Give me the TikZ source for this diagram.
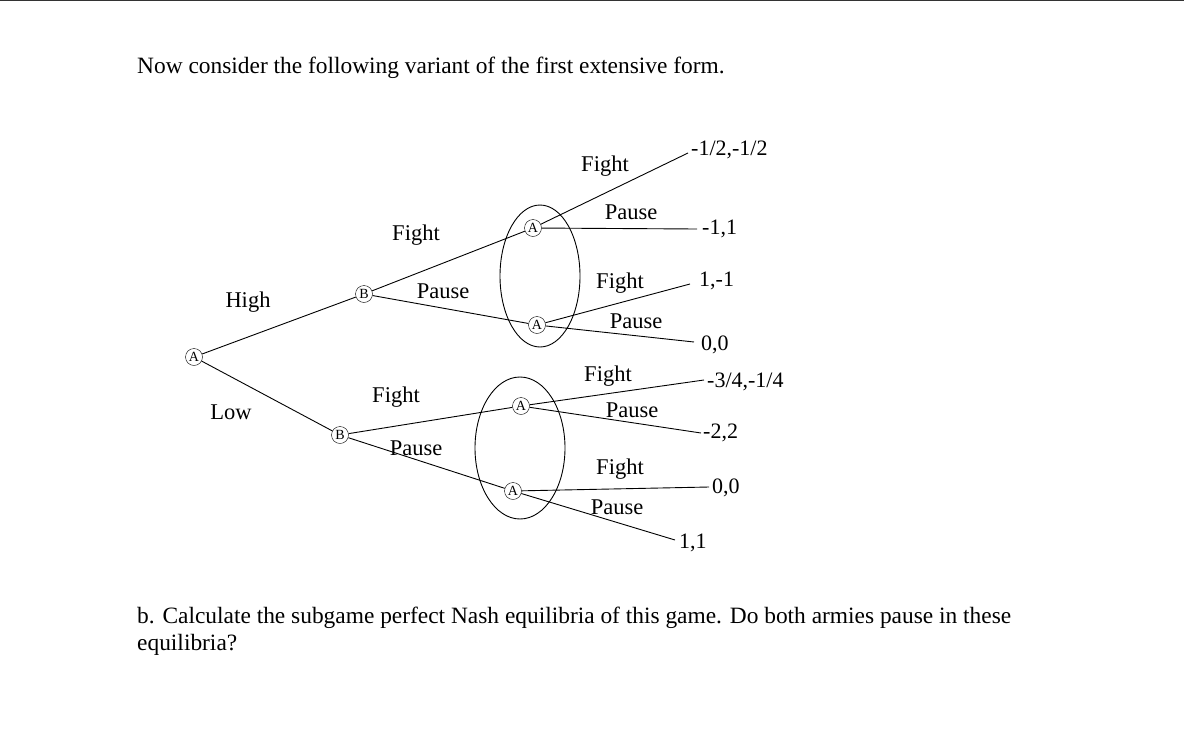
\documentclass[tikz,border=0pt]{standalone}
\usepackage{fontspec}
\setmainfont{Liberation Serif}
\begin{document}
\begin{tikzpicture}[x=1pt,y=-1pt,
  dn/.style={draw,circle,inner sep=0pt,minimum size=17pt,fill=white,font=\fontsize{14}{14}\selectfont},
  lb/.style={font=\fontsize{22.5}{24}\selectfont,inner sep=0pt},
  tx/.style={font=\fontsize{23.4}{26}\selectfont,inner sep=0pt,anchor=west},
  pay/.style={font=\fontsize{22}{24}\selectfont,inner sep=0pt,anchor=west},
  ln/.style={line width=0.9pt}]
\useasboundingbox (0,0) rectangle (1184,734);
\draw[line width=1.5pt,color=black!80] (0,0.5) -- (1184,0.5);
\node[tx] (t1) at (137,68) {Now consider the following variant of the first extensive form.};
\node[tx] (t2) at (137,618) {b. Calculate the subgame perfect Nash equilibria of this game. Do both armies pause in these};
\node[tx] (t3) at (137,645) {equilibria?};
\draw[ln] (540,276) ellipse (40 and 71);
\draw[ln] (520,448) ellipse (45 and 71);
\coordinate (e1) at (688,153);
\coordinate (e2) at (697,229);
\coordinate (e3) at (690,284);
\coordinate (e4) at (694,342);
\coordinate (e5) at (704,380);
\coordinate (e6) at (701,433);
\coordinate (e7) at (709,487);
\coordinate (e8) at (675,540);
\node[dn] (r) at (194,357) {A};
\node[dn] (bh) at (364,294) {B};
\node[dn] (bl) at (340,435) {B};
\node[dn] (a1) at (533,228) {A};
\node[dn] (a2) at (537,325) {A};
\node[dn] (a3) at (521,406) {A};
\node[dn] (a4) at (513,491) {A};
\draw[ln] (r) -- (bh); \draw[ln] (r) -- (bl);
\draw[ln] (bh) -- (a1); \draw[ln] (bh) -- (a2);
\draw[ln] (bl) -- (a3); \draw[ln] (bl) -- (a4);
\draw[ln] (a1) -- (e1); \draw[ln] (a1) -- (e2);
\draw[ln] (a2) -- (e3); \draw[ln] (a2) -- (e4);
\draw[ln] (a3) -- (e5); \draw[ln] (a3) -- (e6);
\draw[ln] (a4) -- (e7); \draw[ln] (a4) -- (e8);
\node[pay] (p1) at (691,150) {-1/2,-1/2};
\node[pay] (p2) at (702,229) {-1,1};
\node[pay] (p3) at (699,281) {1,-1};
\node[pay] (p4) at (701,345) {0,0};
\node[pay] (p5) at (707,382) {-3/4,-1/4};
\node[pay] (p6) at (703,433) {-2,2};
\node[pay] (p7) at (712,488) {0,0};
\node[pay] (p8) at (679,543) {1,1};
\node[lb] (l1) at (248,302) {High};
\node[lb] (l2) at (231,412) {Low};
\node[lb] (l3) at (416,235) {Fight};
\node[lb] (l4) at (443,291) {Pause};
\node[lb] (l5) at (396,397) {Fight};
\node[lb] (l6) at (416,448) {Pause};
\node[lb] (l7) at (605,166) {Fight};
\node[lb] (l8) at (631,212) {Pause};
\node[lb] (l9) at (620,283) {Fight};
\node[lb] (l10) at (636,321) {Pause};
\node[lb] (l11) at (608,376) {Fight};
\node[lb] (l12) at (632,410) {Pause};
\node[lb] (l13) at (620,469) {Fight};
\node[lb] (l14) at (617,507) {Pause};
\end{tikzpicture}
\end{document}
